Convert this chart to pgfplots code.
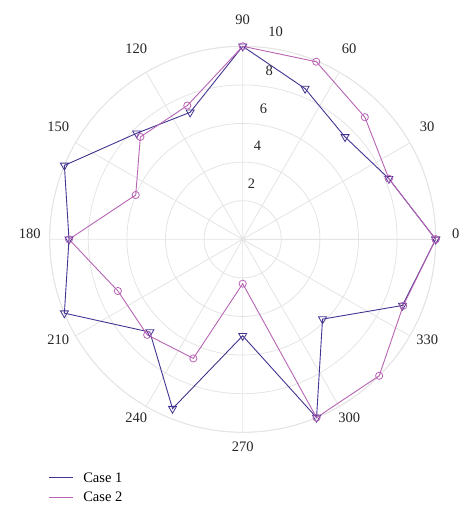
\documentclass[border=0pt]{standalone}
\usepackage{pgfplots}
\pgfplotsset{compat=1.18}
\usepgfplotslibrary{polar}
\usepackage{fontspec}
\setmainfont{Liberation Serif}
\definecolor{caseone}{RGB}{66,52,145}
\definecolor{casetwo}{RGB}{184,100,180}
\definecolor{gridc}{RGB}{228,228,228}
\begin{document}
\begin{tikzpicture}[font=\fontsize{14.5}{17}\selectfont]
\useasboundingbox (0,0) rectangle (474pt,517pt);
\begin{polaraxis}[
  at={(242.7pt,277.7pt)}, anchor=center,
  width=386pt, height=386pt, scale only axis,
  ymin=0, ymax=10,
  ytick={2,4,6,8,10}, yticklabels={},
  xtick={0,30,...,330}, xticklabels={},
  xmajorgrids, ymajorgrids,
  major grid style={gridc, line width=0.8pt},
  axis line style={gridc, line width=0.8pt},
  major tick length=0pt,
  clip=false,
  legend style={draw=none, fill=none, at={(axis description cs:-0.012,-0.093)}, anchor=north west,
    font=\fontsize{14.5}{18}\selectfont, row sep=4pt, cells={anchor=west},
    /tikz/every odd column/.append style={column sep=8pt}},
  legend cell align=left,
  legend image code/.code={\draw[#1, mark=none, line width=1pt] (0pt,0pt) -- (24pt,0pt);},
]
\addplot[caseone, line width=0.9pt, mark=triangle, mark size=4.6pt, mark options={rotate=180, line width=0.8pt}] coordinates {
(0,10) (22.5,8.2) (45,7.5) (67.5,8.45) (90,10) (112.5,7.12) (135,7.77) (157.5,10)
(180,9) (202.5,10) (225,6.8) (247.5,9.5) (270,5.0) (292.5,10) (315,5.85) (337.5,8.96) (360,10)};
\addlegendentry{Case 1}
\addplot[casetwo, line width=0.9pt, mark=o, mark size=3.6pt, mark options={line width=0.8pt}] coordinates {
(0,10) (22.5,8.2) (45,8.95) (67.5,9.96) (90,10) (112.5,7.5) (135,7.5) (157.5,6)
(180,9) (202.5,7) (225,7) (247.5,6.68) (270,2.3) (292.5,10) (315,10) (337.5,9) (360,10)};
\addlegendentry{Case 2}
\foreach \a in {0,30,...,330}{
  \edef\tmp{\noexpand\node[yshift=6pt, text=black!85] at (axis cs:\a,11.04) {\a};}\tmp
}
\node[text=black!85] at (axis cs:81,2.9) {2};
\node[text=black!85] at (axis cs:81,4.89) {4};
\node[text=black!85] at (axis cs:81,6.87) {6};
\node[text=black!85] at (axis cs:81,8.83) {8};
\node[text=black!85] at (axis cs:81,10.9) {10};
\end{polaraxis}
\end{tikzpicture}
\end{document}
